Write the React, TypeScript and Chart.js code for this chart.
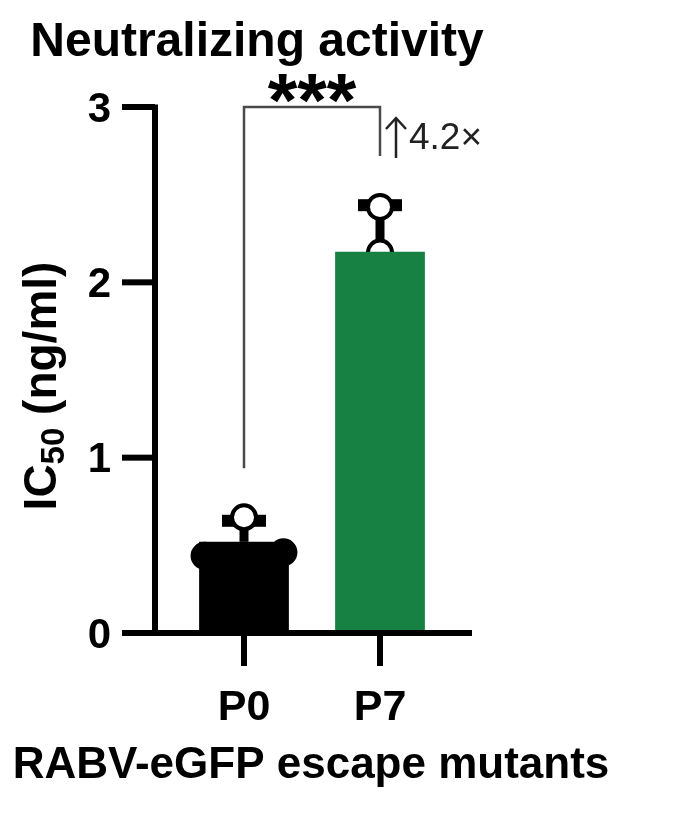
import React, { useEffect, useRef } from "react";
import { Chart, registerables } from "chart.js";

Chart.register(...registerables);

const categories = ["P0", "P7"];
const barMeans = [0.52, 2.175];
const barSD = [0.12, 0.265];
const barColors = ["#000000", "#178043"];
// individual replicate points: category index (with jitter) and value
const pointX = [-0.29, 0, 0.29, 1, 1, 1];
const pointY = [0.44, 0.66, 0.46, 2.43, 2.17, 1.9];
const pointFill = ["#000000", "#ffffff", "#000000", "#ffffff", "#ffffff", "#ffffff"];
const yTicks = [0, 1, 2, 3];
const bracketTop = 3.0;
const bracketLeftBottom = 0.94;
const bracketRightBottom = 2.72;
const sigLabel = "***";
const foldLabel = "4.2\u00d7";
const titleText = "Neutralizing activity";
const xTitle = "RABV-eGFP escape mutants";

const FONT = "'Liberation Sans', Arial, Helvetica, sans-serif";

export default function App() {
  const ref = useRef<HTMLCanvasElement | null>(null);
  useEffect(() => {
    const canvas = ref.current;
    if (!canvas) return;

    const errorBars = {
      id: "errorBars",
      beforeDatasetsDraw(chart: any) {
        const ctx = chart.ctx;
        const y = chart.scales.y;
        const meta = chart.getDatasetMeta(0);
        ctx.save();
        ctx.fillStyle = "#000";
        meta.data.forEach((el: any, i: number) => {
          const top = y.getPixelForValue(barMeans[i] + barSD[i]);
          const base = el.y;
          ctx.fillRect(el.x - 4.5, top, 9, base - top);
          ctx.fillRect(el.x - 22, top - 6, 44, 12);
        });
        ctx.restore();
      },
    };

    const decor = {
      id: "decor",
      afterDraw(chart: any) {
        const ctx = chart.ctx;
        const y = chart.scales.y;
        const x = chart.scales.x;
        const y0 = y.getPixelForValue(0);
        const yMax = y.getPixelForValue(3);
        const axisX = 155;
        ctx.save();
        ctx.fillStyle = "#000";
        // y axis
        ctx.fillRect(axisX - 3, yMax - 2.5, 6, y0 - yMax + 5);
        yTicks.forEach((t) => {
          const py = y.getPixelForValue(t);
          ctx.fillRect(axisX - 33, py - 3, 33, 6);
        });
        // x axis
        ctx.fillRect(axisX - 33, y0 - 3, 472 - (axisX - 33), 6);
        categories.forEach((_, i) => {
          const px = x.getPixelForValue(i);
          ctx.fillRect(px - 3, y0, 6, 33);
        });
        // y tick labels
        ctx.font = `bold 42px ${FONT}`;
        ctx.textAlign = "right";
        ctx.textBaseline = "middle";
        yTicks.forEach((t) => {
          const py = y.getPixelForValue(t);
          ctx.fillText(String(t), 111, py + 3);
        });
        // x labels
        ctx.font = `bold 43px ${FONT}`;
        ctx.textAlign = "center";
        ctx.textBaseline = "alphabetic";
        categories.forEach((c, i) => {
          ctx.fillText(c, x.getPixelForValue(i), 720);
        });
        // x title
        ctx.font = `bold 44px ${FONT}`;
        ctx.fillText(xTitle, 311, 778);
        // title
        ctx.font = `bold 48px ${FONT}`;
        ctx.fillText(titleText, 257, 56);
        // y title with subscript
        ctx.save();
        ctx.translate(56, 386);
        ctx.rotate(-Math.PI / 2);
        ctx.textAlign = "left";
        ctx.textBaseline = "alphabetic";
        const big = `bold 46px ${FONT}`;
        const small = `bold 33px ${FONT}`;
        ctx.font = big;
        const w1 = ctx.measureText("IC").width;
        const w3 = ctx.measureText(" (ng/ml)").width;
        ctx.font = small;
        const w2 = ctx.measureText("50").width;
        let sx = -(w1 + w2 + w3) / 2;
        ctx.font = big;
        ctx.fillText("IC", sx, 0);
        sx += w1;
        ctx.font = small;
        ctx.fillText("50", sx, 8);
        sx += w2;
        ctx.font = big;
        ctx.fillText(" (ng/ml)", sx, 0);
        ctx.restore();
        // significance bracket
        const xl = x.getPixelForValue(0);
        const xr = x.getPixelForValue(1);
        const yt = y.getPixelForValue(bracketTop);
        ctx.strokeStyle = "#4a4a4a";
        ctx.lineWidth = 2.5;
        ctx.beginPath();
        ctx.moveTo(xl, y.getPixelForValue(bracketLeftBottom));
        ctx.lineTo(xl, yt);
        ctx.lineTo(xr, yt);
        ctx.lineTo(xr, y.getPixelForValue(bracketRightBottom));
        ctx.stroke();
        ctx.fillStyle = "#000";
        ctx.font = `bold 76px ${FONT}`;
        ctx.textAlign = "center";
        ctx.textBaseline = "alphabetic";
        ctx.fillText(sigLabel, (xl + xr) / 2, 126);
        // fold change arrow
        ctx.strokeStyle = "#222";
        ctx.lineWidth = 2.5;
        ctx.beginPath();
        ctx.moveTo(xr + 16, 158);
        ctx.lineTo(xr + 16, 118);
        ctx.moveTo(xr + 6, 129);
        ctx.lineTo(xr + 16, 118);
        ctx.lineTo(xr + 26, 129);
        ctx.stroke();
        ctx.fillStyle = "#222";
        ctx.font = `37px ${FONT}`;
        ctx.textAlign = "left";
        ctx.fillText(foldLabel, xr + 29, 149);
        ctx.restore();
      },
    };

    const chart = new Chart(canvas, {
      type: "bar",
      data: {
        labels: categories,
        datasets: [
          {
            type: "bar",
            data: barMeans,
            backgroundColor: barColors,
            borderWidth: 0,
            grouped: false,
            categoryPercentage: 1,
            barPercentage: 0.66,
            order: 0,
          } as any,
          {
            type: "scatter",
            xAxisID: "x2",
            data: pointX.map((px, i) => ({ x: px, y: pointY[i] })),
            pointRadius: 12,
            pointBorderWidth: 4,
            pointBackgroundColor: pointFill,
            pointBorderColor: "#000",
            order: 1,
          } as any,
        ],
      },
      options: {
        responsive: false,
        animation: false,
        layout: { padding: { left: 176, right: 248, top: 107, bottom: 180 } },
        plugins: { legend: { display: false }, tooltip: { enabled: false } },
        scales: {
          x: { type: "category", display: false, offset: true },
          x2: { type: "linear", display: false, offset: false, min: -0.5, max: 1.5 },
          y: { type: "linear", display: false, min: 0, max: 3 },
        },
      },
      plugins: [errorBars, decor],
    });
    return () => chart.destroy();
  }, []);

  return (
    <div style={{ position: "absolute", left: 0, top: 0, width: 696, height: 813, background: "#fff" }}>
      <canvas ref={ref} width={696} height={813} />
    </div>
  );
}
